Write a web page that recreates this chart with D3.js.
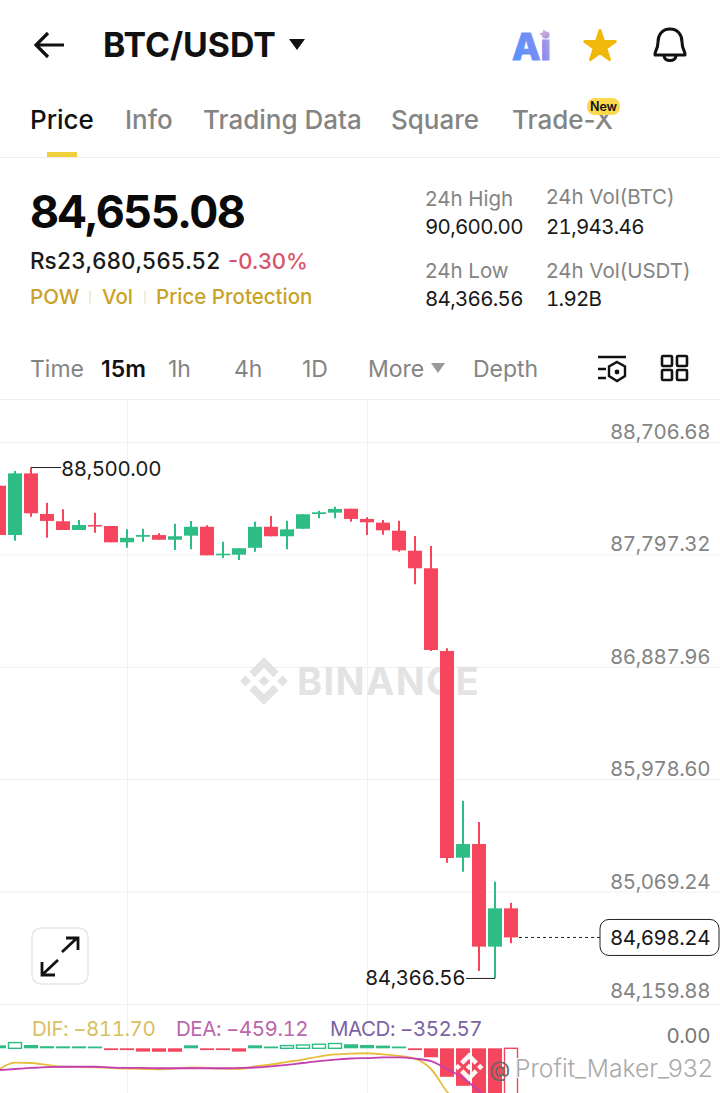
<!DOCTYPE html>
<html>
<head>
<meta charset="utf-8">
<script src="https://cdn.jsdelivr.net/npm/d3@7"></script>
<style>
html, body { margin: 0; padding: 0; background: #fff; overflow: hidden; }
svg { display: block; font-family: Inter, "Noto Sans", sans-serif; }
.num { font-variant-numeric: tabular-nums; letter-spacing: -0.45px; }
.num2 { font-variant-numeric: tabular-nums; letter-spacing: -0.7px; }
</style>
</head>
<body>
<svg id="chart" width="720" height="1093"></svg>
<script>
// candles, oldest first (15m)
var opens = [88353, 87954, 88453, 88124, 88065, 87995, 88035, 88027, 87895, 87940, 87954, 87916, 87949, 88021, 87790, 87795, 87851, 88021, 87944, 88005, 88124, 88135, 88167, 88084, 88054, 87989, 87827, 87685, 87016, 85344, 85454, 84624, 84934]
var highs = [88353, 88472, 88500, 88216, 88162, 88076, 88135, 88027, 88000, 88005, 87968, 88046, 88068, 88033, 87900, 87847, 88062, 88108, 88070, 88122, 88151, 88183, 88167, 88097, 88076, 88070, 87946, 87865, 87038, 85805, 85632, 85149, 84979]
var lows = [87900, 87908, 88102, 87932, 87995, 87995, 87973, 87895, 87851, 87900, 87916, 87833, 87839, 87790, 87768, 87752, 87819, 87944, 87839, 88005, 88089, 88089, 88062, 87954, 87957, 87819, 87555, 87016, 85303, 85230, 84427, 84366.56, 84651]
var closes = [87954, 88453, 88130, 88068, 87995, 88035, 88023, 87895, 87932, 87954, 87916, 87944, 88021, 87790, 87803, 87847, 88021, 87944, 88000, 88122, 88138, 88165, 88084, 88057, 87992, 87830, 87685, 87024, 85341, 85454, 84624, 84934, 84698.24]

var priceTicks = [88706.68, 87797.32, 86887.96, 85978.60, 85069.24, 84159.88]
var timeGridCandles = [8, 23]

// macd panel, same candles
var hist = [20, 38, 22, 14, 13, 13, 12, -12, -12, -22, -23, -23, 20, -12, -12, -22, 20, 12, 18, 22, 27, 32, 27, 22, 18, 12, -12, -60, -190, -250, -380, -410, -352.57]
var dif = [-140, -96, -98, -111, -123, -125, -127, -131, -136, -138, -140, -135, -127, -131, -136, -138, -121, -108, -91, -75, -55, -41, -35, -33, -40, -51, -69, -138, -289, -400, -560, -720, -811.7]
var dea = [-145, -138, -131, -125, -123, -123, -123, -128, -131, -131, -133, -133, -133, -133, -133, -131, -128, -121, -111, -98, -85, -75, -68, -65, -61, -61, -69, -85, -138, -198, -285, -372, -459.12]

var lastPrice = 84698.24
var highPrice = 88500
var lowPrice = 84366.56

var tabs = ['Price', 'Info', 'Trading Data', 'Square', 'Trade-X']
var tabX = [30, 125, 203, 391, 512]
var intervals = ['Time', '15m', '1h', '4h', '1D', 'More', 'Depth']
var intervalX = [30, 101, 168, 234, 302, 368, 473]

var green = '#2ebd85'
var red = '#f6465d'
var gray = '#848484'
var dark = '#1a1a1a'
var gridColor = '#f1f1f1'

var svg = d3.select('#chart')
var fmt = d3.format(',.2f')

svg.append('rect').attr('width', 720).attr('height', 1093).attr('fill', '#fff')

function label(x, y, txt, size, color, weight, anchor) {
    return svg.append('text')
        .attr('x', x).attr('y', y)
        .attr('font-size', size)
        .attr('fill', color)
        .attr('font-weight', weight || 400)
        .attr('text-anchor', anchor || 'start')
        .text(txt)
}

function binanceLogo(cx, cy, s, color, opacity) {
    // s = half width of the whole mark
    var g = svg.append('g').attr('transform', `translate(${cx},${cy}) scale(${s / 12})`).attr('fill', color).attr('opacity', opacity)
    g.append('path').attr('d', 'M-4.66-1.92 L0-6.58 L4.66-1.92 L7.37-4.63 L0-12 L-7.37-4.63Z')
    g.append('path').attr('d', 'M-4.66 1.92 L0 6.58 L4.66 1.92 L7.37 4.63 L0 12 L-7.37 4.63Z')
    g.append('path').attr('d', 'M-12 0 L-9.29-2.71 L-6.58 0 L-9.29 2.71Z')
    g.append('path').attr('d', 'M12 0 L9.29-2.71 L6.58 0 L9.29 2.71Z')
    g.append('path').attr('d', 'M0-2.75 L2.75 0 L0 2.75 L-2.75 0Z')
    return g
}

// ---- header ----
svg.append('path').attr('d', 'M64 45 H36 M48 33 L36 45 L48 57')
    .attr('fill', 'none').attr('stroke', '#111').attr('stroke-width', 3.2)
label(103, 57, 'BTC/USDT', 33.8, '#111', 700)
svg.append('path').attr('d', 'M289 39 H305 L297 50Z').attr('fill', '#111')

var defs = svg.append('defs')
var aiGrad = defs.append('linearGradient').attr('id', 'aiGrad').attr('x1', 0).attr('x2', 1).attr('y1', 0.3).attr('y2', 0)
aiGrad.append('stop').attr('offset', 0).attr('stop-color', '#5b93ff')
aiGrad.append('stop').attr('offset', 0.6).attr('stop-color', '#7f8cf0')
aiGrad.append('stop').attr('offset', 1).attr('stop-color', '#cfa6dc')
label(512, 60, 'Ai', 37, 'url(#aiGrad)', 800).attr('stroke', 'url(#aiGrad)').attr('stroke-width', 1)
svg.append('path').attr('d', 'M544 29 L545.5 32.5 L549 34 L545.5 35.5 L544 39 L542.5 35.5 L539 34 L542.5 32.5Z').attr('fill', '#c9a6d8')

svg.append('path')
    .attr('d', d3.symbol(d3.symbolStar, 290)())
    .attr('transform', 'translate(600,46.5)')
    .attr('fill', '#f0b90b').attr('stroke', '#f0b90b').attr('stroke-width', 3).attr('stroke-linejoin', 'round')

svg.append('path')
    .attr('d', 'M670 29 C678 29 682 35 682 42 C682 50 686 52 685 55 H655 C654 52 658 50 658 42 C658 35 662 29 670 29Z M664 56 C665 62 675 62 676 56')
    .attr('fill', 'none').attr('stroke', '#111').attr('stroke-width', 3).attr('stroke-linejoin', 'round')

// ---- tabs ----
tabs.forEach(function (t, i) {
    label(tabX[i], 129, t, 26, i == 0 ? '#111' : gray, 500)
})
svg.append('rect').attr('x', 47).attr('y', 152).attr('width', 30).attr('height', 5).attr('fill', '#f0cf3c')
svg.append('rect').attr('x', 587).attr('y', 98).attr('width', 33).attr('height', 17).attr('rx', 8).attr('fill', '#fcd84c')
label(603.5, 111, 'New', 12.5, '#111', 600, 'middle')
svg.append('line').attr('x1', 0).attr('x2', 720).attr('y1', 157.5).attr('y2', 157.5).attr('stroke', '#eee')

// ---- ticker block ----
label(30, 228, '84,655.08', 45, '#0a0a0a', 700).style('font-variant-numeric', 'tabular-nums').attr('letter-spacing', -1.5)
label(30, 269, 'Rs23,680,565.52', 22.5, '#1a1a1a', 500).style('font-variant-numeric', 'tabular-nums')
label(228, 269, '-0.30%', 22, '#d8546a', 500)
label(30, 304, 'POW', 20.5, '#c9a227', 500)
label(102, 304, 'Vol', 20.5, '#c9a227', 500)
label(156, 304, 'Price Protection', 20.5, '#c9a227', 500)
svg.append('line').attr('x1', 90).attr('x2', 90).attr('y1', 291).attr('y2', 304).attr('stroke', '#e8dcae')
svg.append('line').attr('x1', 145).attr('x2', 145).attr('y1', 291).attr('y2', 304).attr('stroke', '#e8dcae')

label(425, 206, '24h High', 20.5, gray)
label(425, 234, '90,600.00', 20.5, dark).attr('class', 'num2')
label(546, 204, '24h Vol(BTC)', 20.5, gray)
label(546, 234, '21,943.46', 20.5, dark).attr('class', 'num2')
label(425, 278, '24h Low', 20.5, gray)
label(425, 306, '84,366.56', 20.5, dark).attr('class', 'num2')
label(546, 278, '24h Vol(USDT)', 20.5, gray)
label(546, 306, '1.92B', 20.5, dark).attr('class', 'num2')

// ---- interval row ----
intervals.forEach(function (t, i) {
    label(intervalX[i], 377, t, 23, i == 1 ? '#111' : gray, i == 1 ? 600 : 400)
})
svg.append('path').attr('d', 'M431 363 H445 L438 373Z').attr('fill', '#999')

// settings icon
svg.append('path').attr('d', 'M598 357 H626 M598 369 H606 M598 378 H606')
    .attr('fill', 'none').attr('stroke', '#111').attr('stroke-width', 2.4)
svg.append('path').attr('d', 'M617 362 L625 366.5 V376 L617 381 L609 376 V366.5Z')
    .attr('fill', 'none').attr('stroke', '#111').attr('stroke-width', 2.4)
svg.append('circle').attr('cx', 617).attr('cy', 372).attr('r', 2.4).attr('fill', '#111')
// layout icon
;[662, 677].forEach(function (x) {
    ;[356, 370].forEach(function (y) {
        svg.append('rect').attr('x', x).attr('y', y).attr('width', 10).attr('height', 10).attr('rx', 1)
            .attr('fill', 'none').attr('stroke', '#111').attr('stroke-width', 2.6)
    })
})
svg.append('line').attr('x1', 0).attr('x2', 720).attr('y1', 399.5).attr('y2', 399.5).attr('stroke', '#eee')

// ---- scales ----
var xScale = d3.scaleLinear().domain([0, 32]).range([-1, 511])
var yScale = d3.scaleLinear().domain([88706.68, 84159.88]).range([442, 1004])
var macdScale = d3.scaleLinear().domain([0, -400]).range([1048.3, 1108.3])
var bodyWidth = 14

// ---- grid ----
var gridG = svg.append('g').attr('class', 'grid')
gridG.call(d3.axisRight(yScale).tickValues(priceTicks).tickSize(720).tickFormat(''))
gridG.select('.domain').remove()
gridG.selectAll('line').attr('stroke', gridColor)

var vGrid = svg.append('g').attr('transform', 'translate(0,400)')
vGrid.call(d3.axisBottom(xScale).tickValues(timeGridCandles).tickSize(693).tickFormat(''))
vGrid.select('.domain').remove()
vGrid.selectAll('line').attr('stroke', gridColor)

// watermark under the candles
binanceLogo(264, 681, 24, '#e3e3e3', 1)
label(297, 695, 'BINANCE', 38, '#e3e3e3', 700).attr('letter-spacing', 1.4)

// ---- candles ----
var candles = svg.append('g').selectAll('g').data(d3.range(opens.length)).join('g')
candles.append('line')
    .attr('x1', i => xScale(i)).attr('x2', i => xScale(i))
    .attr('y1', i => yScale(highs[i])).attr('y2', i => yScale(lows[i]))
    .attr('stroke', i => closes[i] >= opens[i] ? green : red)
    .attr('stroke-width', 2)
candles.append('rect')
    .attr('x', i => xScale(i) - bodyWidth / 2)
    .attr('width', bodyWidth)
    .attr('y', i => yScale(Math.max(opens[i], closes[i])))
    .attr('height', i => Math.max(1.5, Math.abs(yScale(opens[i]) - yScale(closes[i]))))
    .attr('fill', i => closes[i] >= opens[i] ? green : red)

// ---- price axis labels ----
var priceAxis = svg.append('g').attr('transform', 'translate(710,0)')
priceAxis.call(d3.axisLeft(yScale).tickValues(priceTicks).tickSize(0).tickPadding(0).tickFormat(fmt))
priceAxis.select('.domain').remove()
priceAxis.selectAll('text')
    .attr('class', 'num')
    .attr('font-family', 'Inter, "Noto Sans", sans-serif')
    .attr('font-size', 20.5)
    .attr('fill', gray)
    .attr('dy', (d, i) => i == priceTicks.length - 1 ? -6.5 : -3.5)

// high / low markers
var hiIdx = highs.indexOf(highPrice)
svg.append('line').attr('x1', xScale(hiIdx)).attr('x2', 61).attr('y1', yScale(highPrice)).attr('y2', yScale(highPrice)).attr('stroke', '#222').attr('stroke-width', 1)
label(61, yScale(highPrice) + 8, fmt(highPrice), 20.5, dark).attr('class', 'num')
var loIdx = lows.indexOf(lowPrice)
svg.append('line').attr('x1', 466).attr('x2', xScale(loIdx)).attr('y1', yScale(lowPrice)).attr('y2', yScale(lowPrice)).attr('stroke', '#222').attr('stroke-width', 1)
label(465, yScale(lowPrice) + 7, fmt(lowPrice), 20.5, dark, 400, 'end').attr('class', 'num')

// last price
svg.append('line').attr('x1', 519).attr('x2', 600).attr('y1', yScale(lastPrice)).attr('y2', yScale(lastPrice))
    .attr('stroke', '#222').attr('stroke-dasharray', '3,3')
svg.append('rect').attr('x', 600).attr('y', yScale(lastPrice) - 18).attr('width', 119).attr('height', 36).attr('rx', 9)
    .attr('fill', '#fff').attr('stroke', '#222')
label(710, yScale(lastPrice) + 8, fmt(lastPrice), 20.5, dark, 400, 'end').attr('class', 'num')

// expand button
svg.append('rect').attr('x', 32).attr('y', 928).attr('width', 56).attr('height', 56).attr('rx', 9)
    .attr('fill', '#fff').attr('stroke', '#e6e6e6').attr('stroke-width', 1.5)
svg.append('path').attr('d', 'M62 952 L77 938 M66 938 H78 V950 M58 960 L43 974 M42 962 V975 H55')
    .attr('fill', 'none').attr('stroke', '#111').attr('stroke-width', 2.8)

// ---- macd ----
label(32, 1036, 'DIF: \u2212811.70', 20.5, '#d9bf5f').attr('class', 'num')
label(176, 1036, 'DEA: \u2212459.12', 20.5, '#bb66ab').attr('class', 'num')
label(330, 1036, 'MACD: \u2212352.57', 20.5, '#7b63a3').attr('class', 'num')
label(710, 1043, '0.00', 20.5, '#777', 400, 'end').attr('class', 'num')

var macdBars = svg.append('g').selectAll('rect').data(d3.range(hist.length)).join('rect')
function hollow(i) {
    return i > 0 && hist[i] > hist[i - 1] && hist[i] * hist[i - 1] > 0
}
macdBars
    .attr('x', i => xScale(i) - bodyWidth / 2 + (hollow(i) ? 0.5 : 0))
    .attr('width', i => hollow(i) ? bodyWidth - 1 : bodyWidth)
    .attr('y', i => hist[i] > 0 ? macdScale(hist[i]) : macdScale(0))
    .attr('height', i => Math.abs(macdScale(hist[i]) - macdScale(0)))
    .attr('fill', i => hollow(i) ? '#fff' : (hist[i] > 0 ? green : red))
    .attr('stroke', i => hollow(i) ? (hist[i] > 0 ? green : red) : 'none')
    .attr('stroke-width', 1.4)

var macdLine = d3.line().x((d, i) => xScale(i)).y(d => macdScale(d)).curve(d3.curveMonotoneX)
svg.append('path').attr('d', macdLine(dif)).attr('fill', 'none').attr('stroke', '#e8bd3c').attr('stroke-width', 1.8)
svg.append('path').attr('d', macdLine(dea)).attr('fill', 'none').attr('stroke', '#c53fb0').attr('stroke-width', 1.8)

// repost watermark
binanceLogo(469, 1067, 14.5, '#fff', 0.95)
label(489, 1077, '@', 22, '#666')
label(515, 1077, 'Profit_Maker_932', 24.6, '#aaa', 300).attr('stroke', '#fff').attr('stroke-width', 2).attr('paint-order', 'stroke')
</script>
</body>
</html>
